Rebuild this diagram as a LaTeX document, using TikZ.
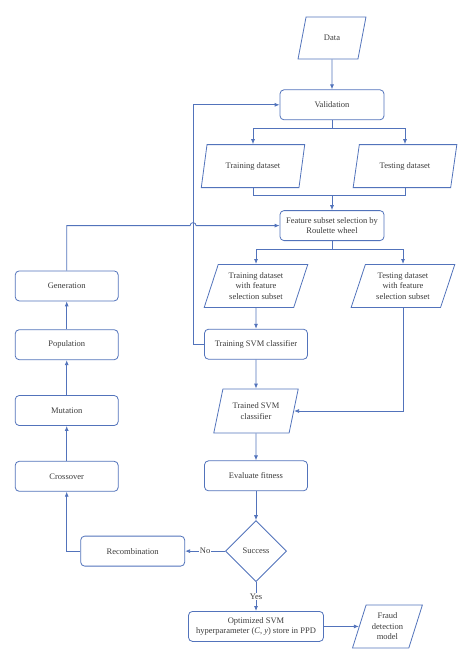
\documentclass[tikz,border=0pt]{standalone}
\usepackage{fontspec}
\setmainfont{Liberation Serif}
\usetikzlibrary{shapes.geometric}
\usetikzlibrary{positioning}
\usetikzlibrary{arrows.meta}
\definecolor{flow}{HTML}{5273BB}
\definecolor{ink}{HTML}{3C3C3C}

\begin{document}
\begin{tikzpicture}[->, >={Latex[length=5pt,width=4pt]},
            x=1pt, y=1pt, color=flow, line width=0.8pt,
            box/.style = {draw=flow, rounded corners=4pt, fill=white,
                minimum width=103pt, minimum height=30pt,
                align=center, text=ink, inner sep=2pt,
                font=\fontsize{8.5}{10.5}\selectfont},
            io/.style = {draw=flow, trapezium, trapezium left angle=70,
                trapezium right angle=110, trapezium stretches=true,
                minimum width=104pt, minimum height=43pt,
                align=center, text=ink, inner sep=1pt,
                font=\fontsize{8.5}{10.5}\selectfont},
            dec/.style = {draw=flow, diamond, aspect=1, minimum size=61pt,
                inner sep=0pt, text=ink,
                font=\fontsize{8.5}{10.5}\selectfont},
            lbl/.style = {midway, fill=white, text=ink, inner sep=1pt,
                font=\fontsize{8.5}{10.5}\selectfont}]
            \useasboundingbox (0,0) rectangle (474,-655);
            % main column
            \node[io, minimum width=68pt, minimum height=42pt] (data)
                at (332,-38) {Data};
            \node[box, minimum width=104pt, below=30pt of data] (val) {Validation};
            \node[io, below=24pt of val, xshift=-79pt] (train) {Training dataset};
            \node[io, below=24pt of val, xshift=73pt] (test) {Testing dataset};
            \node[box, minimum width=104pt, below=90pt of val] (fss) {
                Feature subset selection by\\
                Roulette wheel
            };
            \node[io, below=23pt of fss, xshift=-76pt] (trainfs) {
                Training dataset\\
                with feature\\
                selection subset
            };
            \node[io, below=23pt of fss, xshift=71pt] (testfs) {
                Testing dataset\\
                with feature\\
                selection subset
            };
            \node[box, below=21pt of trainfs] (svm) {Training SVM classifier};
            \node[io, minimum width=85pt, minimum height=44pt,
                below=29pt of svm] (trained) {Trained SVM\\ classifier};
            \node[box, below=27pt of trained] (eval) {Evaluate fitness};
            \node[dec, below=29pt of eval] (succ) {Success};
            \node[box, minimum width=135pt, below=29pt of succ] (opt) {
                Optimized SVM\\
                hyperparameter (\textit{C}, \textit{y}) store in PPD
            };
            \node[io, minimum width=70pt, right=35pt of opt] (fraud) {
                Fraud\\ detection\\ model
            };
            % genetic loop
            \node[box, minimum width=104pt, left=40pt of succ] (rec) {Recombination};
            \node[box, above=44pt of rec, xshift=-66pt] (cross) {Crossover};
            \node[box, above=35pt of cross] (mut) {Mutation};
            \node[box, above=35pt of mut] (pop) {Population};
            \node[box, above=28pt of pop] (gen) {Generation};

            \coordinate[below=8pt of val] (vsplit);
            \coordinate[below=8pt of fss] (fsplit);
            \coordinate (loop) at ([xshift=-11pt]svm.west);

            \draw (data) -- (val);
            \draw[-] (val) -- (vsplit);
            \draw (vsplit) -| (train);
            \draw (vsplit) -| (test);
            \draw[-] (train.south) -- ++(0,-7) coordinate (t1) -| (test.south);
            \draw (t1 -| fss) -- (fss);
            \draw[-] (fss) -- (fsplit);
            \draw (fsplit) -| (trainfs);
            \draw (fsplit) -| (testfs);
            \draw (trainfs) -- (svm);
            \draw (svm) -- (trained);
            \draw (testfs.south) |- (trained.east);
            \draw (trained) -- (eval);
            \draw (eval) -- (succ);
            \draw (succ) -- node[lbl] {No} (rec);
            \draw (succ) -- node[lbl] {Yes} (opt);
            \draw (opt) -- (fraud);
            \draw (rec.west) -| (cross.south);
            \draw (cross) -- (mut);
            \draw (mut) -- (pop);
            \draw (pop) -- (gen);
            \draw (svm.west) -- (loop) |- (val.west);
            \draw (gen.north) |- ([xshift=-3pt]loop |- fss.west)
                arc[start angle=180, end angle=0, radius=3pt] -- (fss.west);
        \end{tikzpicture}
\end{document}
